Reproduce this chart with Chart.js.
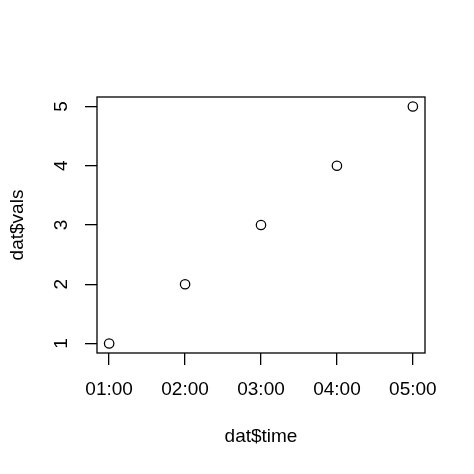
<!DOCTYPE html>
<html>
<head>
<meta charset="utf-8">
<script src="https://cdn.jsdelivr.net/npm/chart.js@4"></script>
<style>
html,body{margin:0;padding:0;background:#fff;}
#wrap{width:474px;height:474px;}
</style>
</head>
<body>
<div id="wrap"><canvas id="c" width="474" height="474"></canvas></div>
<script>
const timeValues = [1, 2, 3, 4, 5];
const timeLabels = ["01:00", "02:00", "03:00", "04:00", "05:00"];
const vals = [1, 2, 3, 4, 5];
const yTicks = [1, 2, 3, 4, 5];
const xTitle = "dat$time";
const yTitle = "dat$vals";

const FONT = "'Liberation Sans', Arial, Helvetica, sans-serif";
const points = timeValues.map((t, i) => ({x: t, y: vals[i]}));

const boxPlugin = {
  id: 'box',
  afterDraw(chart) {
    const {ctx, chartArea: a} = chart;
    ctx.save();
    ctx.strokeStyle = '#000';
    ctx.lineWidth = 1.3;
    ctx.strokeRect(a.left, a.top, a.right - a.left, a.bottom - a.top);
    // rotated y tick labels (R style, reading upward)
    const ys = chart.scales.y;
    ctx.fillStyle = '#000';
    ctx.font = '19px ' + FONT;
    ctx.textAlign = 'center';
    ctx.textBaseline = 'middle';
    yTicks.forEach(v => {
      const py = ys.getPixelForValue(v);
      ctx.save();
      ctx.translate(62, py);
      ctx.rotate(-Math.PI / 2);
      ctx.fillText(String(v), 0, 0);
      ctx.restore();
    });
    ctx.restore();
  }
};

new Chart(document.getElementById('c'), {
  type: 'scatter',
  data: {
    datasets: [{
      data: points,
      pointStyle: 'circle',
      pointRadius: 4.7,
      pointHoverRadius: 4.7,
      borderColor: '#000',
      backgroundColor: 'rgba(0,0,0,0)',
      borderWidth: 1.25,
      showLine: false
    }]
  },
  options: {
    responsive: false,
    animation: false,
    devicePixelRatio: 1,
    layout: {padding: {top: 97, right: 49, left: 0, bottom: 0}},
    plugins: {legend: {display: false}, tooltip: {enabled: false}},
    scales: {
      x: {
        type: 'linear',
        min: 0.84,
        max: 5.16,
        afterBuildTicks(scale) { scale.ticks = timeValues.map(v => ({value: v})); },
        afterFit(scale) { scale.height = 121; },
        border: {display: false},
        grid: {display: true, drawOnChartArea: false, drawTicks: true, tickLength: 12, color: '#000', lineWidth: 1.3},
        ticks: {
          color: '#000',
          font: {family: FONT, size: 19},
          padding: 13,
          maxRotation: 0,
          autoSkip: false,
          callback(v) { const i = timeValues.indexOf(v); return i >= 0 ? timeLabels[i] : ''; }
        },
        title: {display: true, text: xTitle, color: '#000', font: {family: FONT, size: 19}, padding: {top: 0, bottom: 26}}
      },
      y: {
        type: 'linear',
        min: 0.84,
        max: 5.16,
        afterBuildTicks(scale) { scale.ticks = yTicks.map(v => ({value: v})); },
        afterFit(scale) { scale.width = 97; },
        border: {display: false},
        grid: {display: true, drawOnChartArea: false, drawTicks: true, tickLength: 12, color: '#000', lineWidth: 1.3},
        ticks: {display: false},
        title: {display: true, text: yTitle, color: '#000', font: {family: FONT, size: 19}, padding: {top: 6, bottom: 0}}
      }
    }
  },
  plugins: [boxPlugin]
});
</script>
</body>
</html>
